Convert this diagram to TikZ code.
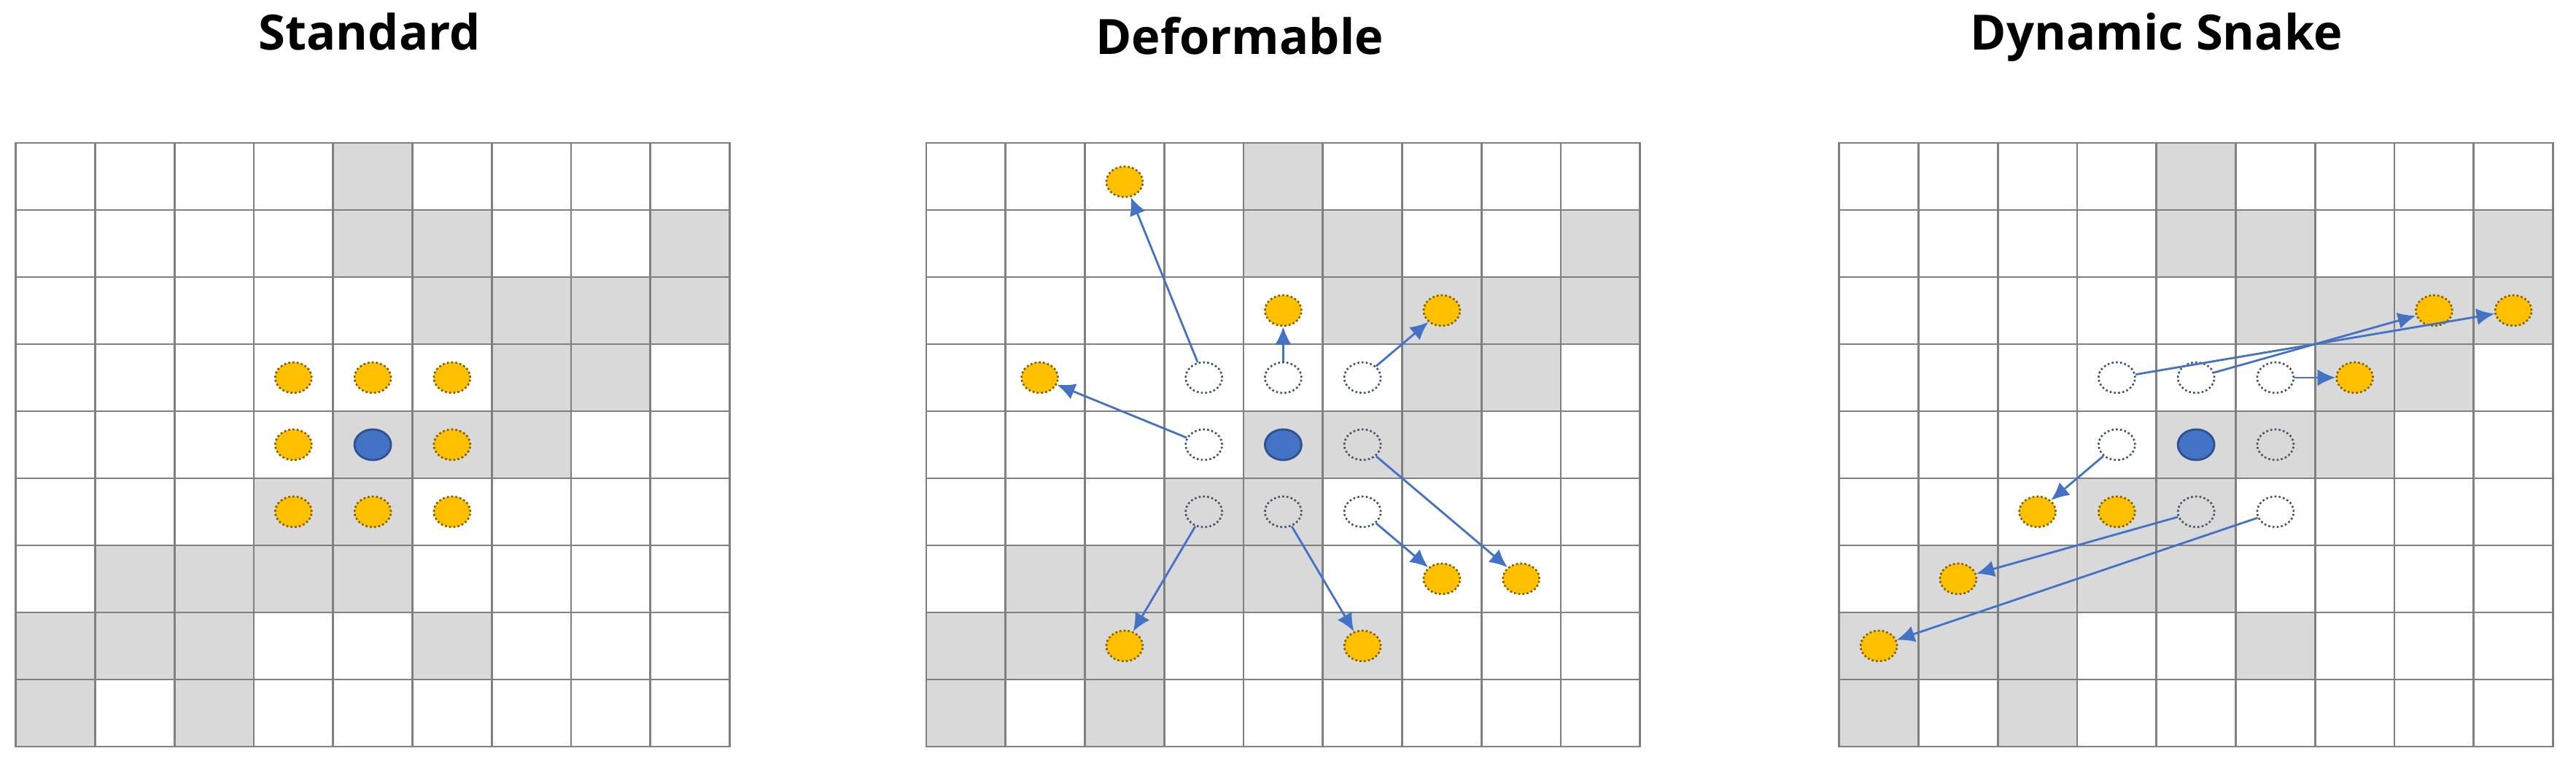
\documentclass[tikz,border=0pt]{standalone}
\usepackage{fontspec}
\setsansfont{Open Sans}
\usetikzlibrary{shapes.geometric,arrows.meta}

\definecolor{cellgray}{HTML}{D9D9D9}
\definecolor{gridgray}{HTML}{808080}
\definecolor{sampleyellow}{HTML}{FFC000}
\definecolor{sampleedge}{HTML}{7F6000}
\definecolor{centreblue}{HTML}{4472C4}
\definecolor{centreedge}{HTML}{2F528F}
\definecolor{ghostedge}{HTML}{44546A}
\definecolor{arrowblue}{HTML}{4472C4}

\begin{document}
\begin{tikzpicture}[x=1.0875cm, y=0.92cm, >={Latex[length=7pt,width=6.5pt]}]
      \tikzstyle{dotshape}=[ellipse,minimum width=0.5cm,minimum height=0.42cm,inner sep=0pt]
      \tikzstyle{sampledot}=[dotshape,fill=sampleyellow,draw=sampleedge,line width=0.75pt,dash pattern=on 0.75pt off 0.9pt]
      \tikzstyle{ghostdot}=[dotshape,draw=ghostedge,line width=0.75pt,dash pattern=on 0.75pt off 0.9pt]
      \tikzstyle{centredot}=[dotshape,fill=centreblue,draw=centreedge,line width=0.8pt]
      \tikzstyle{titletext}=[anchor=base,font=\sffamily\bfseries\fontsize{19}{23}\selectfont]
      \tikzstyle{offsetarrow}=[->,draw=arrowblue,line width=0.8pt]

      \useasboundingbox (-0.217cm,-0.28cm) rectangle ++(35.32cm,10.52cm);

      % draw grids

      \foreach \off in {0,11.479,22.989} {
        \foreach \c/\r in {5/1,5/2,6/2,9/2,6/3,7/3,8/3,9/3,7/4,8/4,5/5,6/5,7/5,4/6,5/6,2/7,3/7,4/7,5/7,1/8,2/8,3/8,6/8,1/9,3/9}
        \fill [cellgray] (\off+\c-1,9-\r) rectangle ++(1,1);
        \foreach \i in {0,...,9} {
          \draw [gridgray,line width=0.8pt,line cap=rect] (\off+\i,0) -- ++(0,9);
          \draw [gridgray,line width=0.8pt,line cap=rect] (\off,\i) -- ++(9,0);};
      }

      % draw text

      \node [titletext] (title-std) at (4.46,10.39) {Standard};
      \node [titletext] (title-def) at (15.43,10.32) {Deformable};
      \node [titletext] (title-dsc) at (26.99,10.39) {Dynamic Snake};

      % standard

      \foreach \c/\r in {4/4,5/4,6/4,4/5,6/5,4/6,5/6,6/6}
      \node [sampledot] (std-\c\r) at (\c-0.5,9.5-\r) {};
      \node [centredot] (std-55) at (4.5,4.5) {};

      % deformable

      \foreach \c/\r in {4/4,5/4,6/4,4/5,6/5,4/6,5/6,6/6}
      \node [ghostdot] (def-\c\r) at (11.479+\c-0.5,9.5-\r) {};
      \node [centredot] (def-55) at (11.479+4.5,4.5) {};

      \foreach \x/\y [count=\k] in {2.5/8.42,4.5/6.5,6.5/6.5,1.43/5.5,7.5/2.5,2.5/1.5,5.5/1.5,6.5/2.5}
      \node [sampledot] (def-s\k) at (11.479+\x,\y) {};

      \foreach \o [count=\k] in {44,54,64,45,65,46,56,66}
      \draw [offsetarrow] (def-\o) -- (def-s\k);

      % dynamic snake

      \foreach \c/\r in {4/4,5/4,6/4,4/5,6/5,5/6,6/6}
      \node [ghostdot] (dsc-\c\r) at (22.989+\c-0.5,9.5-\r) {};
      \node [centredot] (dsc-55) at (22.989+4.5,4.5) {};
      \node [sampledot] (dsc-46) at (22.989+3.5,3.5) {};

      \foreach \x/\y [count=\k] in {8.5/6.5,7.5/6.5,6.5/5.5,2.5/3.5,1.5/2.5,0.5/1.5}
      \node [sampledot] (dsc-s\k) at (22.989+\x,\y) {};

      \foreach \o [count=\k] in {44,54,64,45,56,66}
      \draw [offsetarrow] (dsc-\o) -- (dsc-s\k);

\end{tikzpicture}
\end{document}
